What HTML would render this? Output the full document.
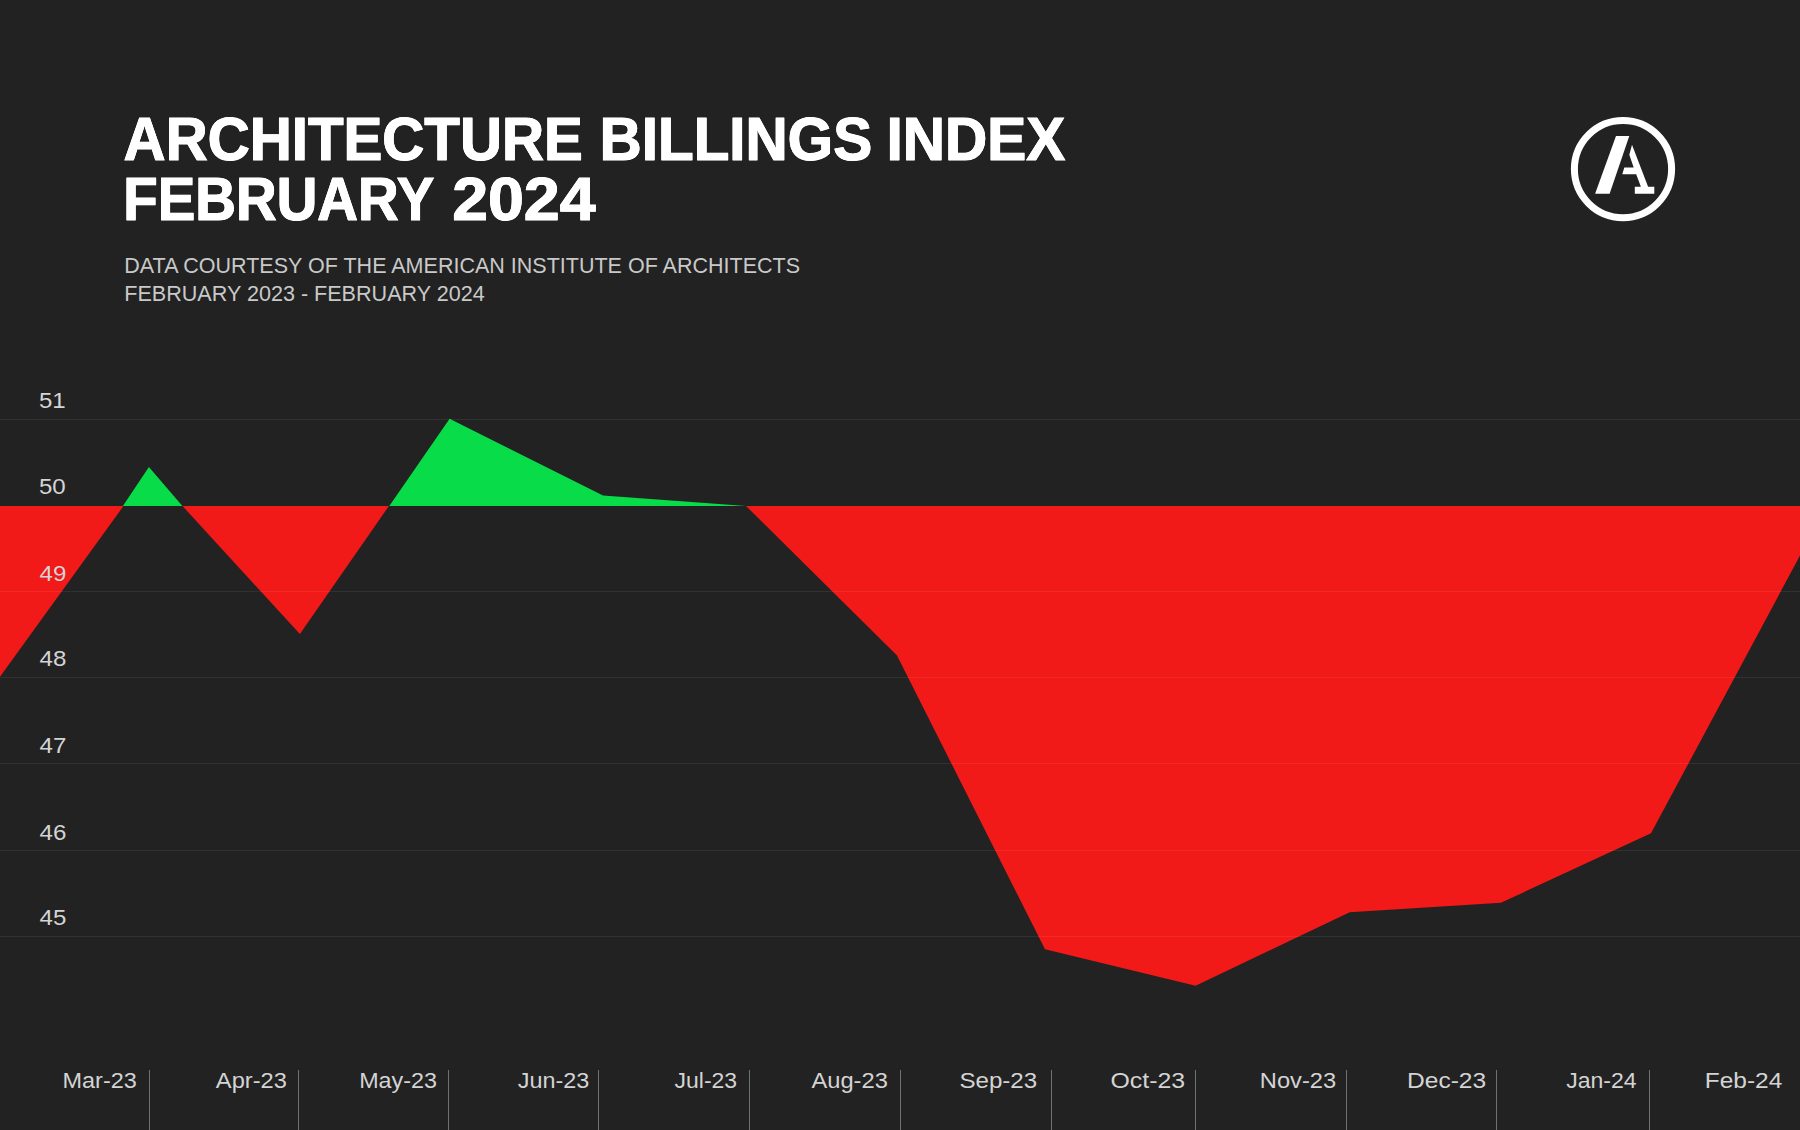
<!DOCTYPE html>
<html lang="en"><head><meta charset="utf-8"><title>Architecture Billings Index February 2024</title>
<style>
html,body{margin:0;padding:0;background:#222222;}
body{width:1800px;height:1130px;position:relative;overflow:hidden;font-family:"Liberation Sans",Arial,sans-serif;color:#fff;}
.t{position:absolute;left:0;top:0;white-space:nowrap;line-height:1;transform-origin:0 0;}
.title{font-weight:bold;font-size:61.5px;-webkit-text-stroke:1.0px #fff;text-shadow:0.5px 0 0 #fff,-0.5px 0 0 #fff;}
.sub{font-size:21.3px;color:#c9c9c9;}
.xl{font-size:21.5px;color:#d4d4d4;}
.yl{font-size:21.5px;color:#d4d4d4;}
svg{position:absolute;left:0;top:0;}
h1{margin:0;padding:0;font-size:inherit;font-weight:inherit;position:absolute;left:0;top:0;}
</style></head><body>

<svg width="1800" height="1130" viewBox="0 0 1800 1130">
<polygon fill="#f21919" points="0,506 123.5,506 0,676.8"/>
<polygon fill="#08dc48" points="122.9,506 148.9,467.0 182.4,506"/>
<polygon fill="#f21919" points="182.5,506 299.9,634.0 388.9,506"/>
<polygon fill="#08dc48" points="389.3,506 449.6,418.7 603,495.6 746,506"/>
<polygon fill="#f21919" points="746,506 897,655.5 1045,949.3 1195.6,985.7 1349.7,912.3 1501,902.7 1651,833.3 1800,555.6 1800,506"/>
<rect x="0" y="419.0" width="1800" height="1" fill="#ffffff" fill-opacity="0.07"/>
<rect x="0" y="591.0" width="1800" height="1" fill="#ffffff" fill-opacity="0.07"/>
<rect x="0" y="677.0" width="1800" height="1" fill="#ffffff" fill-opacity="0.07"/>
<rect x="0" y="763.0" width="1800" height="1" fill="#ffffff" fill-opacity="0.07"/>
<rect x="0" y="850.0" width="1800" height="1" fill="#ffffff" fill-opacity="0.07"/>
<rect x="0" y="936.0" width="1800" height="1" fill="#ffffff" fill-opacity="0.07"/>
<rect x="149" y="1070" width="1" height="60" fill="#707070"/>
<rect x="298" y="1070" width="1" height="60" fill="#707070"/>
<rect x="448" y="1070" width="1" height="60" fill="#707070"/>
<rect x="598" y="1070" width="1" height="60" fill="#707070"/>
<rect x="749" y="1070" width="1" height="60" fill="#707070"/>
<rect x="900" y="1070" width="1" height="60" fill="#707070"/>
<rect x="1051" y="1070" width="1" height="60" fill="#707070"/>
<rect x="1195" y="1070" width="1" height="60" fill="#707070"/>
<rect x="1346" y="1070" width="1" height="60" fill="#707070"/>
<rect x="1496" y="1070" width="1" height="60" fill="#707070"/>
<rect x="1649" y="1070" width="1" height="60" fill="#707070"/>
<circle cx="1623" cy="169.1" r="48.6" fill="none" stroke="#fff" stroke-width="7"/>
<polygon fill="#fff" points="1616.0,135.9 1629.3,135.9 1609.6,193.8 1595.1,193.8"/>
<polygon fill="#fff" points="1632.0,144.7 1648.1,186.8 1654.3,186.8 1654.3,193.8 1634.8,193.8 1634.8,186.8 1640.9,186.8 1636.2,174.2 1622.3,174.2 1624.3,167.5 1633.7,167.5 1629.3,154.8"/>
</svg>
<h1><span class="t title" style="transform:translate(123.60px,108.00px) scaleX(0.9466)">ARCHITECTURE</span> <span class="t title" style="transform:translate(599.61px,108.00px) scaleX(0.9495)">BILLINGS</span> <span class="t title" style="transform:translate(886.61px,108.00px) scaleX(0.9498)">INDEX</span></h1>
<h1><span class="t title" style="transform:translate(123.21px,168.00px) scaleX(0.9164)">FEBRUARY</span> <span class="t title" style="transform:translate(452.19px,168.00px) scaleX(1.0478)">2024</span></h1>
<div class="subtitle">
<div class="t sub" style="transform:translate(124.30px,255.60px) scaleX(1.0101)">DATA COURTESY OF THE AMERICAN INSTITUTE OF ARCHITECTS</div>
<div class="t sub" style="transform:translate(124.29px,283.60px) scaleX(1.0125)">FEBRUARY 2023 - FEBRUARY 2024</div>
</div>
<div class="xaxis">
<div class="t xl" style="transform:translate(62.54px,1070.80px) scaleX(1.0904)">Mar-23</div>
<div class="t xl" style="transform:translate(215.87px,1070.80px) scaleX(1.0992)">Apr-23</div>
<div class="t xl" style="transform:translate(359.15px,1070.80px) scaleX(1.0861)">May-23</div>
<div class="t xl" style="transform:translate(517.82px,1070.80px) scaleX(1.0883)">Jun-23</div>
<div class="t xl" style="transform:translate(674.53px,1070.80px) scaleX(1.0685)">Jul-23</div>
<div class="t xl" style="transform:translate(811.47px,1070.80px) scaleX(1.1019)">Aug-23</div>
<div class="t xl" style="transform:translate(959.39px,1070.80px) scaleX(1.1220)">Sep-23</div>
<div class="t xl" style="transform:translate(1110.49px,1070.80px) scaleX(1.1571)">Oct-23</div>
<div class="t xl" style="transform:translate(1259.82px,1070.80px) scaleX(1.1011)">Nov-23</div>
<div class="t xl" style="transform:translate(1407.05px,1070.80px) scaleX(1.1416)">Dec-23</div>
<div class="t xl" style="transform:translate(1566.23px,1070.80px) scaleX(1.0715)">Jan-24</div>
<div class="t xl" style="transform:translate(1704.76px,1070.80px) scaleX(1.1376)">Feb-24</div>
</div>
<div class="yaxis">
<div class="t yl" style="transform:translate(38.93px,391.30px) scaleX(1.1200)">51</div>
<div class="t yl" style="transform:translate(38.93px,477.00px) scaleX(1.1200)">50</div>
<div class="t yl" style="transform:translate(39.51px,563.50px) scaleX(1.1200)">49</div>
<div class="t yl" style="transform:translate(39.51px,649.00px) scaleX(1.1200)">48</div>
<div class="t yl" style="transform:translate(39.51px,736.00px) scaleX(1.1200)">47</div>
<div class="t yl" style="transform:translate(39.51px,823.00px) scaleX(1.1200)">46</div>
<div class="t yl" style="transform:translate(39.51px,907.60px) scaleX(1.1200)">45</div>
</div>
</body></html>
